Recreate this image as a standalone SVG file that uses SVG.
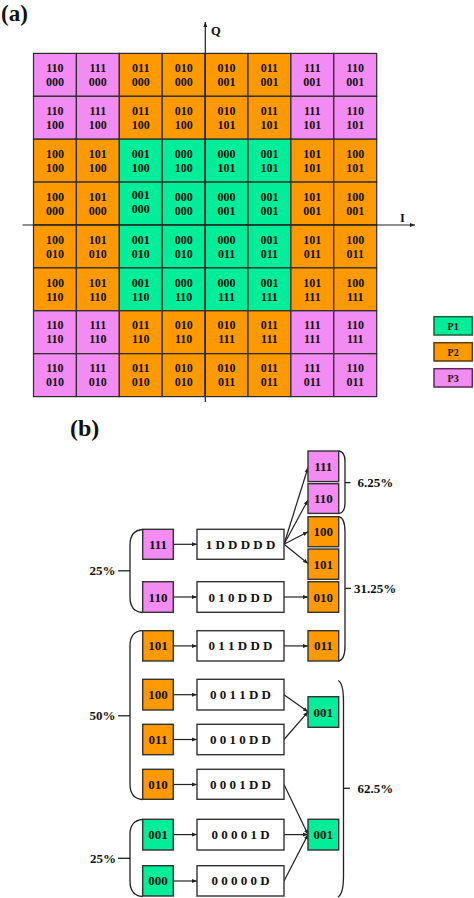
<svg xmlns="http://www.w3.org/2000/svg" width="474" height="898" viewBox="0 0 474 898">
<style>
text{font-family:"Liberation Serif","Times New Roman",serif;font-weight:bold;fill:#111}
.ct{font-size:12px;text-anchor:middle}
.bt{font-size:13px;text-anchor:middle}
.pt{font-size:13px}
.lg{font-size:10px;text-anchor:middle}
.p1{fill:#00ee99}
.p2{fill:#ff9900}
.p3{fill:#f28cf2}
.cell rect{stroke:#2b2b2b;stroke-width:1.2}
.bx{stroke:#333;stroke-width:1.4}
.wb{fill:#fff;stroke:#333;stroke-width:1.4}
.ln{fill:none;stroke:#222;stroke-width:1.2}
.br{fill:none;stroke:#222;stroke-width:1.3}
</style>
<defs>
<marker id="ah" viewBox="0 0 10 10" refX="10" refY="5" markerWidth="5" markerHeight="5" orient="auto" markerUnits="userSpaceOnUse">
<path d="M0,1 L10,5 L0,9 Z" fill="#222"/>
</marker>
</defs>
<text x="1" y="21" style="font-size:23px">(a)</text>
<g id="grid">
<g class="cell" id="c11"><rect class="p3" x="33.5" y="53.4" width="42.9" height="42.9"/><text class="ct"><tspan x="54.95" y="72">110</tspan><tspan x="54.95" y="86">000</tspan></text></g>
<g class="cell" id="c12"><rect class="p3" x="76.4" y="53.4" width="42.9" height="42.9"/><text class="ct"><tspan x="97.85" y="72">111</tspan><tspan x="97.85" y="86">000</tspan></text></g>
<g class="cell" id="c13"><rect class="p2" x="119.3" y="53.4" width="42.9" height="42.9"/><text class="ct"><tspan x="140.75" y="72">011</tspan><tspan x="140.75" y="86">000</tspan></text></g>
<g class="cell" id="c14"><rect class="p2" x="162.2" y="53.4" width="42.9" height="42.9"/><text class="ct"><tspan x="183.65" y="72">010</tspan><tspan x="183.65" y="86">000</tspan></text></g>
<g class="cell" id="c15"><rect class="p2" x="205.1" y="53.4" width="42.9" height="42.9"/><text class="ct"><tspan x="226.55" y="72">010</tspan><tspan x="226.55" y="86">001</tspan></text></g>
<g class="cell" id="c16"><rect class="p2" x="248" y="53.4" width="42.9" height="42.9"/><text class="ct"><tspan x="269.45" y="72">011</tspan><tspan x="269.45" y="86">001</tspan></text></g>
<g class="cell" id="c17"><rect class="p3" x="290.9" y="53.4" width="42.9" height="42.9"/><text class="ct"><tspan x="312.35" y="72">111</tspan><tspan x="312.35" y="86">001</tspan></text></g>
<g class="cell" id="c18"><rect class="p3" x="333.8" y="53.4" width="42.9" height="42.9"/><text class="ct"><tspan x="355.25" y="72">110</tspan><tspan x="355.25" y="86">001</tspan></text></g>

<g class="cell" id="c21"><rect class="p3" x="33.5" y="96.3" width="42.9" height="42.9"/><text class="ct"><tspan x="54.95" y="114.9">110</tspan><tspan x="54.95" y="128.9">100</tspan></text></g>
<g class="cell" id="c22"><rect class="p3" x="76.4" y="96.3" width="42.9" height="42.9"/><text class="ct"><tspan x="97.85" y="114.9">111</tspan><tspan x="97.85" y="128.9">100</tspan></text></g>
<g class="cell" id="c23"><rect class="p2" x="119.3" y="96.3" width="42.9" height="42.9"/><text class="ct"><tspan x="140.75" y="114.9">011</tspan><tspan x="140.75" y="128.9">100</tspan></text></g>
<g class="cell" id="c24"><rect class="p2" x="162.2" y="96.3" width="42.9" height="42.9"/><text class="ct"><tspan x="183.65" y="114.9">010</tspan><tspan x="183.65" y="128.9">100</tspan></text></g>
<g class="cell" id="c25"><rect class="p2" x="205.1" y="96.3" width="42.9" height="42.9"/><text class="ct"><tspan x="226.55" y="114.9">010</tspan><tspan x="226.55" y="128.9">101</tspan></text></g>
<g class="cell" id="c26"><rect class="p2" x="248" y="96.3" width="42.9" height="42.9"/><text class="ct"><tspan x="269.45" y="114.9">011</tspan><tspan x="269.45" y="128.9">101</tspan></text></g>
<g class="cell" id="c27"><rect class="p3" x="290.9" y="96.3" width="42.9" height="42.9"/><text class="ct"><tspan x="312.35" y="114.9">111</tspan><tspan x="312.35" y="128.9">101</tspan></text></g>
<g class="cell" id="c28"><rect class="p3" x="333.8" y="96.3" width="42.9" height="42.9"/><text class="ct"><tspan x="355.25" y="114.9">110</tspan><tspan x="355.25" y="128.9">101</tspan></text></g>

<g class="cell" id="c31"><rect class="p2" x="33.5" y="139.2" width="42.9" height="42.9"/><text class="ct"><tspan x="54.95" y="157.8">100</tspan><tspan x="54.95" y="171.8">100</tspan></text></g>
<g class="cell" id="c32"><rect class="p2" x="76.4" y="139.2" width="42.9" height="42.9"/><text class="ct"><tspan x="97.85" y="157.8">101</tspan><tspan x="97.85" y="171.8">100</tspan></text></g>
<g class="cell" id="c33"><rect class="p1" x="119.3" y="139.2" width="42.9" height="42.9"/><text class="ct"><tspan x="140.75" y="157.8">001</tspan><tspan x="140.75" y="171.8">100</tspan></text></g>
<g class="cell" id="c34"><rect class="p1" x="162.2" y="139.2" width="42.9" height="42.9"/><text class="ct"><tspan x="183.65" y="157.8">000</tspan><tspan x="183.65" y="171.8">100</tspan></text></g>
<g class="cell" id="c35"><rect class="p1" x="205.1" y="139.2" width="42.9" height="42.9"/><text class="ct"><tspan x="226.55" y="157.8">000</tspan><tspan x="226.55" y="171.8">101</tspan></text></g>
<g class="cell" id="c36"><rect class="p1" x="248" y="139.2" width="42.9" height="42.9"/><text class="ct"><tspan x="269.45" y="157.8">001</tspan><tspan x="269.45" y="171.8">101</tspan></text></g>
<g class="cell" id="c37"><rect class="p2" x="290.9" y="139.2" width="42.9" height="42.9"/><text class="ct"><tspan x="312.35" y="157.8">101</tspan><tspan x="312.35" y="171.8">101</tspan></text></g>
<g class="cell" id="c38"><rect class="p2" x="333.8" y="139.2" width="42.9" height="42.9"/><text class="ct"><tspan x="355.25" y="157.8">100</tspan><tspan x="355.25" y="171.8">101</tspan></text></g>

<g class="cell" id="c41"><rect class="p2" x="33.5" y="182.1" width="42.9" height="42.9"/><text class="ct"><tspan x="54.95" y="200.7">100</tspan><tspan x="54.95" y="214.7">000</tspan></text></g>
<g class="cell" id="c42"><rect class="p2" x="76.4" y="182.1" width="42.9" height="42.9"/><text class="ct"><tspan x="97.85" y="200.7">101</tspan><tspan x="97.85" y="214.7">000</tspan></text></g>
<g class="cell" id="c43"><rect class="p1" x="119.3" y="182.1" width="42.9" height="42.9"/><text class="ct"><tspan x="140.75" y="199">001</tspan><tspan x="140.75" y="213">000</tspan></text></g>
<g class="cell" id="c44"><rect class="p1" x="162.2" y="182.1" width="42.9" height="42.9"/><text class="ct"><tspan x="183.65" y="200.7">000</tspan><tspan x="183.65" y="214.7">000</tspan></text></g>
<g class="cell" id="c45"><rect class="p1" x="205.1" y="182.1" width="42.9" height="42.9"/><text class="ct"><tspan x="226.55" y="200.7">000</tspan><tspan x="226.55" y="214.7">001</tspan></text></g>
<g class="cell" id="c46"><rect class="p1" x="248" y="182.1" width="42.9" height="42.9"/><text class="ct"><tspan x="269.45" y="200.7">001</tspan><tspan x="269.45" y="214.7">001</tspan></text></g>
<g class="cell" id="c47"><rect class="p2" x="290.9" y="182.1" width="42.9" height="42.9"/><text class="ct"><tspan x="312.35" y="200.7">101</tspan><tspan x="312.35" y="214.7">001</tspan></text></g>
<g class="cell" id="c48"><rect class="p2" x="333.8" y="182.1" width="42.9" height="42.9"/><text class="ct"><tspan x="355.25" y="200.7">100</tspan><tspan x="355.25" y="214.7">001</tspan></text></g>

<g class="cell" id="c51"><rect class="p2" x="33.5" y="225" width="42.9" height="42.9"/><text class="ct"><tspan x="54.95" y="243.6">100</tspan><tspan x="54.95" y="257.6">010</tspan></text></g>
<g class="cell" id="c52"><rect class="p2" x="76.4" y="225" width="42.9" height="42.9"/><text class="ct"><tspan x="97.85" y="243.6">101</tspan><tspan x="97.85" y="257.6">010</tspan></text></g>
<g class="cell" id="c53"><rect class="p1" x="119.3" y="225" width="42.9" height="42.9"/><text class="ct"><tspan x="140.75" y="243.6">001</tspan><tspan x="140.75" y="257.6">010</tspan></text></g>
<g class="cell" id="c54"><rect class="p1" x="162.2" y="225" width="42.9" height="42.9"/><text class="ct"><tspan x="183.65" y="243.6">000</tspan><tspan x="183.65" y="257.6">010</tspan></text></g>
<g class="cell" id="c55"><rect class="p1" x="205.1" y="225" width="42.9" height="42.9"/><text class="ct"><tspan x="226.55" y="243.6">000</tspan><tspan x="226.55" y="257.6">011</tspan></text></g>
<g class="cell" id="c56"><rect class="p1" x="248" y="225" width="42.9" height="42.9"/><text class="ct"><tspan x="269.45" y="243.6">001</tspan><tspan x="269.45" y="257.6">011</tspan></text></g>
<g class="cell" id="c57"><rect class="p2" x="290.9" y="225" width="42.9" height="42.9"/><text class="ct"><tspan x="312.35" y="243.6">101</tspan><tspan x="312.35" y="257.6">011</tspan></text></g>
<g class="cell" id="c58"><rect class="p2" x="333.8" y="225" width="42.9" height="42.9"/><text class="ct"><tspan x="355.25" y="243.6">100</tspan><tspan x="355.25" y="257.6">011</tspan></text></g>

<g class="cell" id="c61"><rect class="p2" x="33.5" y="267.9" width="42.9" height="42.9"/><text class="ct"><tspan x="54.95" y="286.5">100</tspan><tspan x="54.95" y="300.5">110</tspan></text></g>
<g class="cell" id="c62"><rect class="p2" x="76.4" y="267.9" width="42.9" height="42.9"/><text class="ct"><tspan x="97.85" y="286.5">101</tspan><tspan x="97.85" y="300.5">110</tspan></text></g>
<g class="cell" id="c63"><rect class="p1" x="119.3" y="267.9" width="42.9" height="42.9"/><text class="ct"><tspan x="140.75" y="286.5">001</tspan><tspan x="140.75" y="300.5">110</tspan></text></g>
<g class="cell" id="c64"><rect class="p1" x="162.2" y="267.9" width="42.9" height="42.9"/><text class="ct"><tspan x="183.65" y="286.5">000</tspan><tspan x="183.65" y="300.5">110</tspan></text></g>
<g class="cell" id="c65"><rect class="p1" x="205.1" y="267.9" width="42.9" height="42.9"/><text class="ct"><tspan x="226.55" y="286.5">000</tspan><tspan x="226.55" y="300.5">111</tspan></text></g>
<g class="cell" id="c66"><rect class="p1" x="248" y="267.9" width="42.9" height="42.9"/><text class="ct"><tspan x="269.45" y="286.5">001</tspan><tspan x="269.45" y="300.5">111</tspan></text></g>
<g class="cell" id="c67"><rect class="p2" x="290.9" y="267.9" width="42.9" height="42.9"/><text class="ct"><tspan x="312.35" y="286.5">101</tspan><tspan x="312.35" y="300.5">111</tspan></text></g>
<g class="cell" id="c68"><rect class="p2" x="333.8" y="267.9" width="42.9" height="42.9"/><text class="ct"><tspan x="355.25" y="286.5">100</tspan><tspan x="355.25" y="300.5">111</tspan></text></g>

<g class="cell" id="c71"><rect class="p3" x="33.5" y="310.8" width="42.9" height="42.9"/><text class="ct"><tspan x="54.95" y="329.4">110</tspan><tspan x="54.95" y="343.4">110</tspan></text></g>
<g class="cell" id="c72"><rect class="p3" x="76.4" y="310.8" width="42.9" height="42.9"/><text class="ct"><tspan x="97.85" y="329.4">111</tspan><tspan x="97.85" y="343.4">110</tspan></text></g>
<g class="cell" id="c73"><rect class="p2" x="119.3" y="310.8" width="42.9" height="42.9"/><text class="ct"><tspan x="140.75" y="329.4">011</tspan><tspan x="140.75" y="343.4">110</tspan></text></g>
<g class="cell" id="c74"><rect class="p2" x="162.2" y="310.8" width="42.9" height="42.9"/><text class="ct"><tspan x="183.65" y="329.4">010</tspan><tspan x="183.65" y="343.4">110</tspan></text></g>
<g class="cell" id="c75"><rect class="p2" x="205.1" y="310.8" width="42.9" height="42.9"/><text class="ct"><tspan x="226.55" y="329.4">010</tspan><tspan x="226.55" y="343.4">111</tspan></text></g>
<g class="cell" id="c76"><rect class="p2" x="248" y="310.8" width="42.9" height="42.9"/><text class="ct"><tspan x="269.45" y="329.4">011</tspan><tspan x="269.45" y="343.4">111</tspan></text></g>
<g class="cell" id="c77"><rect class="p3" x="290.9" y="310.8" width="42.9" height="42.9"/><text class="ct"><tspan x="312.35" y="329.4">111</tspan><tspan x="312.35" y="343.4">111</tspan></text></g>
<g class="cell" id="c78"><rect class="p3" x="333.8" y="310.8" width="42.9" height="42.9"/><text class="ct"><tspan x="355.25" y="329.4">110</tspan><tspan x="355.25" y="343.4">111</tspan></text></g>

<g class="cell" id="c81"><rect class="p3" x="33.5" y="353.7" width="42.9" height="42.9"/><text class="ct"><tspan x="54.95" y="372.3">110</tspan><tspan x="54.95" y="386.3">010</tspan></text></g>
<g class="cell" id="c82"><rect class="p3" x="76.4" y="353.7" width="42.9" height="42.9"/><text class="ct"><tspan x="97.85" y="372.3">111</tspan><tspan x="97.85" y="386.3">010</tspan></text></g>
<g class="cell" id="c83"><rect class="p2" x="119.3" y="353.7" width="42.9" height="42.9"/><text class="ct"><tspan x="140.75" y="372.3">011</tspan><tspan x="140.75" y="386.3">010</tspan></text></g>
<g class="cell" id="c84"><rect class="p2" x="162.2" y="353.7" width="42.9" height="42.9"/><text class="ct"><tspan x="183.65" y="372.3">010</tspan><tspan x="183.65" y="386.3">010</tspan></text></g>
<g class="cell" id="c85"><rect class="p2" x="205.1" y="353.7" width="42.9" height="42.9"/><text class="ct"><tspan x="226.55" y="372.3">010</tspan><tspan x="226.55" y="386.3">011</tspan></text></g>
<g class="cell" id="c86"><rect class="p2" x="248" y="353.7" width="42.9" height="42.9"/><text class="ct"><tspan x="269.45" y="372.3">011</tspan><tspan x="269.45" y="386.3">011</tspan></text></g>
<g class="cell" id="c87"><rect class="p3" x="290.9" y="353.7" width="42.9" height="42.9"/><text class="ct"><tspan x="312.35" y="372.3">111</tspan><tspan x="312.35" y="386.3">011</tspan></text></g>
<g class="cell" id="c88"><rect class="p3" x="333.8" y="353.7" width="42.9" height="42.9"/><text class="ct"><tspan x="355.25" y="372.3">110</tspan><tspan x="355.25" y="386.3">011</tspan></text></g>
</g>
<g id="axes">
<line class="ln" x1="205.3" y1="402" x2="205.3" y2="22" marker-end="url(#ah)"/>
<line class="ln" x1="22.5" y1="225" x2="415" y2="225" marker-end="url(#ah)"/>
<text x="211" y="34.5" style="font-size:12.5px">Q</text>
<text x="400" y="221.5" style="font-size:12.5px">I</text>
</g>
<g id="legend">
<g id="leg-p1"><rect class="p1" x="434" y="316.7" width="38.3" height="18.3" stroke="#17603c" stroke-width="1.5"/><text class="lg" x="453.1" y="329.5">P1</text></g>
<g id="leg-p2"><rect class="p2" x="434" y="342.7" width="38.3" height="18.3" stroke="#5a3a12" stroke-width="1.5"/><text class="lg" x="453.1" y="355.5">P2</text></g>
<g id="leg-p3"><rect class="p3" x="434" y="368.7" width="38.3" height="18.3" stroke="#5a2a5a" stroke-width="1.5"/><text class="lg" x="453.1" y="381.5">P3</text></g>
</g>

<text x="70" y="436" style="font-size:24px">(b)</text>

<g id="connectors">
<line class="ln" x1="173.3" y1="544.3" x2="197" y2="544.3" marker-end="url(#ah)"/>
<line class="ln" x1="284" y1="544.3" x2="308" y2="467.5" marker-end="url(#ah)"/>
<line class="ln" x1="284" y1="544.3" x2="308" y2="500" marker-end="url(#ah)"/>
<line class="ln" x1="284" y1="544.3" x2="308" y2="531.8" marker-end="url(#ah)"/>
<line class="ln" x1="284" y1="544.3" x2="308" y2="563.5" marker-end="url(#ah)"/>
<line class="ln" x1="173.3" y1="597" x2="197" y2="597" marker-end="url(#ah)"/>
<line class="ln" x1="284" y1="597" x2="308" y2="597" marker-end="url(#ah)"/>
<line class="ln" x1="173.3" y1="645.9" x2="197" y2="645.9" marker-end="url(#ah)"/>
<line class="ln" x1="284" y1="645.9" x2="308" y2="645.9" marker-end="url(#ah)"/>
<line class="ln" x1="173.3" y1="694.7" x2="197" y2="694.7" marker-end="url(#ah)"/>
<line class="ln" x1="284" y1="694.7" x2="308" y2="711.8" marker-end="url(#ah)"/>
<line class="ln" x1="173.3" y1="739.5" x2="197" y2="739.5" marker-end="url(#ah)"/>
<line class="ln" x1="284" y1="739.5" x2="308" y2="711.8" marker-end="url(#ah)"/>
<line class="ln" x1="173.3" y1="784.5" x2="197" y2="784.5" marker-end="url(#ah)"/>
<line class="ln" x1="284" y1="784.5" x2="308" y2="834.6" marker-end="url(#ah)"/>
<line class="ln" x1="173.3" y1="834.6" x2="197" y2="834.6" marker-end="url(#ah)"/>
<line class="ln" x1="284" y1="834.6" x2="308" y2="834.6" marker-end="url(#ah)"/>
<line class="ln" x1="173.3" y1="881" x2="197" y2="881" marker-end="url(#ah)"/>
<line class="ln" x1="284" y1="881" x2="308" y2="834.6" marker-end="url(#ah)"/>
</g>

<g id="braces">
<path class="br" d="M142.7,529.5 C134,530 130,536 130,545 L130,597 C130,606 134,612 142.7,612.5"/>
<line class="br" x1="118" y1="570.8" x2="130" y2="570.8"/>
<path class="br" d="M142.7,630.7 C134,631 130,637 130,646 L130,784 C130,793 134,799 142.7,799.5"/>
<line class="br" x1="118" y1="715.8" x2="130" y2="715.8"/>
<path class="br" d="M142.7,819.5 C134,820 130,826 130,834 L130,881 C130,890 134,896 142.7,896.5"/>
<line class="br" x1="118" y1="858.3" x2="130" y2="858.3"/>
<path class="br" d="M338.7,451 C343,451.5 345,455 345,461 L345,503 C345,509 343,513 338.7,513.5"/>
<line class="br" x1="345" y1="482.6" x2="350.5" y2="482.6"/>
<path class="br" d="M338.7,516.7 C343,517.5 345,522 345,532 L345,646 C345,655 343,660 338.7,661"/>
<line class="br" x1="345" y1="588.4" x2="351" y2="588.4"/>
<path class="br" d="M338,680.5 C341.5,682 343.5,690 343.5,702 L343.5,876 C343.5,888 341.5,895 338,897"/>
<line class="br" x1="343.5" y1="788.3" x2="350" y2="788.3"/>
</g>
<g id="pct">
<text class="pt" x="115.5" y="575.3" text-anchor="end">25%</text>
<text class="pt" x="115.5" y="720.3" text-anchor="end">50%</text>
<text class="pt" x="116" y="862.8" text-anchor="end">25%</text>
<text class="pt" x="357.5" y="487">6.25%</text>
<text class="pt" x="354" y="592.8">31.25%</text>
<text class="pt" x="357.5" y="792.8">62.5%</text>
</g>

<g id="n-l111"><rect class="p3 bx" x="142.7" y="529.3" width="30.6" height="30"/><text class="bt" x="158" y="549">111</text></g>
<g id="n-m1"><rect class="wb" x="197" y="529.3" width="87" height="30"/><text class="bt" x="240.5" y="549">1 D D D D D</text></g>
<g id="n-r111"><rect class="p3 bx" x="308" y="451" width="30.7" height="30.6"/><text class="bt" x="323.35" y="470.8">111</text></g>
<g id="n-r110"><rect class="p3 bx" x="308" y="483.7" width="30.7" height="29.7"/><text class="bt" x="323.35" y="503">110</text></g>
<g id="n-r100"><rect class="p2 bx" x="308" y="516.7" width="30.7" height="30"/><text class="bt" x="323.35" y="536.2">100</text></g>
<g id="n-r101"><rect class="p2 bx" x="308" y="549" width="30.7" height="30.3"/><text class="bt" x="323.35" y="568.7">101</text></g>

<g id="n-l110"><rect class="p3 bx" x="142.7" y="581.7" width="30.6" height="30.6"/><text class="bt" x="158" y="601.6">110</text></g>
<g id="n-m2"><rect class="wb" x="197" y="581.7" width="87" height="30.6"/><text class="bt" x="240.5" y="601.6">0 1 0 D D D</text></g>
<g id="n-r010"><rect class="p2 bx" x="308" y="581.7" width="30.7" height="30.6"/><text class="bt" x="323.35" y="601.6">010</text></g>

<g id="n-l101"><rect class="p2 bx" x="142.7" y="630.7" width="30.6" height="30.3"/><text class="bt" x="158" y="650.4">101</text></g>
<g id="n-m3"><rect class="wb" x="197" y="630.7" width="87" height="30.3"/><text class="bt" x="240.5" y="650.4">0 1 1 D D D</text></g>
<g id="n-r011"><rect class="p2 bx" x="308" y="630.7" width="30.7" height="30.3"/><text class="bt" x="323.35" y="650.4">011</text></g>

<g id="n-l100"><rect class="p2 bx" x="142.7" y="679.3" width="30.6" height="30.7"/><text class="bt" x="158" y="699.2">100</text></g>
<g id="n-m4"><rect class="wb" x="197" y="679.3" width="87" height="30.7"/><text class="bt" x="240.5" y="699.2">0 0 1 1 D D</text></g>
<g id="n-r001a"><rect class="p1 bx" x="308" y="696.7" width="30.7" height="30.6"/><text class="bt" x="323.35" y="716.5">001</text></g>

<g id="n-l011"><rect class="p2 bx" x="142.7" y="724.3" width="30.6" height="30.4"/><text class="bt" x="158" y="744">011</text></g>
<g id="n-m5"><rect class="wb" x="197" y="724.3" width="87" height="30.4"/><text class="bt" x="240.5" y="744">0 0 1 0 D D</text></g>

<g id="n-l010"><rect class="p2 bx" x="142.7" y="769.3" width="30.6" height="30"/><text class="bt" x="158" y="789">010</text></g>
<g id="n-m6"><rect class="wb" x="197" y="769.3" width="87" height="30"/><text class="bt" x="240.5" y="789">0 0 0 1 D D</text></g>

<g id="n-l001"><rect class="p1 bx" x="142.7" y="819.3" width="30.6" height="30.7"/><text class="bt" x="158" y="839.2">001</text></g>
<g id="n-m7"><rect class="wb" x="197" y="819.3" width="87" height="30.7"/><text class="bt" x="240.5" y="839.2">0 0 0 0 1 D</text></g>
<g id="n-r001b"><rect class="p1 bx" x="308" y="819.3" width="30.7" height="30.7"/><text class="bt" x="323.35" y="839.2">001</text></g>

<g id="n-l000"><rect class="p1 bx" x="142.7" y="865.7" width="30.6" height="30.3"/><text class="bt" x="158" y="885.4">000</text></g>
<g id="n-m8"><rect class="wb" x="197" y="865.7" width="87" height="30.3"/><text class="bt" x="240.5" y="885.4">0 0 0 0 0 D</text></g>
</svg>
